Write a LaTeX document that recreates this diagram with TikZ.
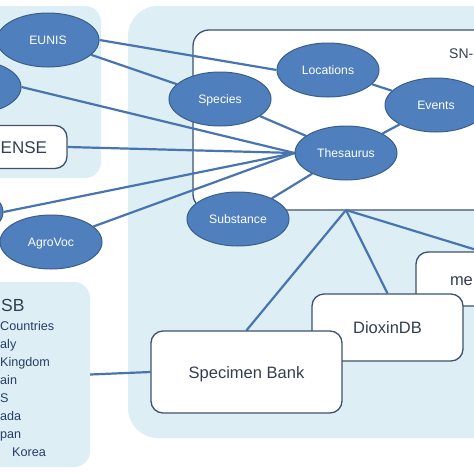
\documentclass[tikz,border=0pt]{standalone}
\usepackage{fontspec}
\setmainfont{Liberation Sans}
\usetikzlibrary{shapes.geometric}

\definecolor{panelblue}{RGB}{221,238,245}
\definecolor{entityblue}{RGB}{79,127,189}
\definecolor{entityedge}{RGB}{58,94,140}
\definecolor{linkblue}{RGB}{72,117,176}
\definecolor{boxedge}{RGB}{62,82,112}
\definecolor{boxtext}{RGB}{52,62,82}
\definecolor{listtext}{RGB}{38,62,104}

\pgfdeclarelayer{panels}
\pgfdeclarelayer{links}
\pgfsetlayers{panels,links,main}

\begin{document}
\begin{tikzpicture}[x=1pt,y=-1pt]
  \tikzstyle{entity}=[ellipse,fill=entityblue,draw=entityedge,line width=1pt,text=white,minimum width=102pt,minimum height=54pt,inner sep=0pt,text height=8.8pt,text depth=0pt,font=\fontsize{12.2}{14}\selectfont]
  \tikzstyle{dbbox}=[rectangle,rounded corners=12pt,fill=white,draw=boxedge,line width=1.3pt,text=boxtext,text height=12pt,text depth=0pt,font=\fontsize{16.5}{20}\selectfont]
  \tikzstyle{panel}=[fill=panelblue,draw=none]
  \tikzstyle{link}=[draw=linkblue,line width=2.2pt]

  \useasboundingbox (0,0) rectangle (474,474);

  \begin{pgfonlayer}{panels}
    \fill[white] (0,0) rectangle (474,474);
    \fill[panel,rounded corners=16pt] (-100,6) rectangle (101,178);
    \fill[panel,rounded corners=30pt] (128,6) rectangle (560,438);
    \node[panel,rounded corners=16pt,minimum width=190pt,minimum height=185pt] (esb) at (-5,374.5) {};
    \node[rectangle,rounded corners=16pt,fill=white,draw=boxedge,line width=1.3pt,minimum width=327pt,minimum height=180pt] (sn) at (356.5,120) {};
  \end{pgfonlayer}
  \node[anchor=base west,inner sep=0pt,text=boxtext,font=\fontsize{14}{17}\selectfont] (snlabel) at (449,58) {SN-};
  \coordinate (hub) at (346,210);

  % thesaurus and its sources
  \node[entity] (eunis) at (48,40) {EUNIS};
  \node[entity] (lefttop) at (-30,87) {};
  \node[entity] (species) at (220,99) {Species};
  \node[entity] (locations) at (328,70) {Locations};
  \node[entity] (events) at (436,105) {Events};
  \node[entity] (thesaurus) at (346,153) {Thesaurus};
  \node[entity] (substance) at (238,219) {Substance};
  \node[entity] (leftlow) at (-48,212) {};
  \node[entity] (agrovoc) at (51,242) {AgroVoc};

  \node[dbbox,minimum width=104pt,minimum height=43pt,text width=64pt,align=right,text height=12.5pt,font=\fontsize{17}{20}\selectfont] (ense) at (15,147) {ENSE};

  % databases
  \node[dbbox,minimum width=130pt,minimum height=54pt,text width=62pt,align=left] (meta) at (481,279) {me};
  \node[dbbox,minimum width=151pt,minimum height=67pt] (dioxin) at (387.5,327.5) {DioxinDB};
  \node[dbbox,minimum width=191pt,minimum height=82pt] (specimen) at (246.5,372) {Specimen Bank};

  % banks list
  \node[anchor=base west,inner sep=0pt,text=boxtext,font=\fontsize{17.5}{20}\selectfont] (esbtitle) at (1,311.5) {SB};
  \foreach \item/\xpos [count=\i] in {Countries/0,aly/0,Kingdom/0,ain/0,S/0,ada/0,pan/0,Korea/12}
    \node[anchor=base west,inner sep=0pt,text=listtext,font=\fontsize{12.6}{15}\selectfont] (country\i) at (\xpos,312.5+18*\i) {\item};

  \begin{pgfonlayer}{links}
    \draw[link] (eunis.east) -- (locations.west);
    \draw[link] (eunis) -- (species);
    \draw[link] (lefttop.east) -- (thesaurus.west);
    \draw[link] (ense.east) -- (thesaurus.west);
    \draw[link] (leftlow.east) -- (thesaurus.west);
    \draw[link] (agrovoc) -- (thesaurus.west);
    \draw[link] (species) -- (thesaurus);
    \draw[link] (locations) -- (events);
    \draw[link] (events) -- (thesaurus);
    \draw[link] (thesaurus) -- (substance);
    \draw[link] (esb.east) -- (specimen.west);
    \draw[link] (hub) -- (specimen.north);
    \draw[link] (hub) -- (dioxin.north);
    \draw[link] (hub) -- (meta.north);
  \end{pgfonlayer}
\end{tikzpicture}
\end{document}
